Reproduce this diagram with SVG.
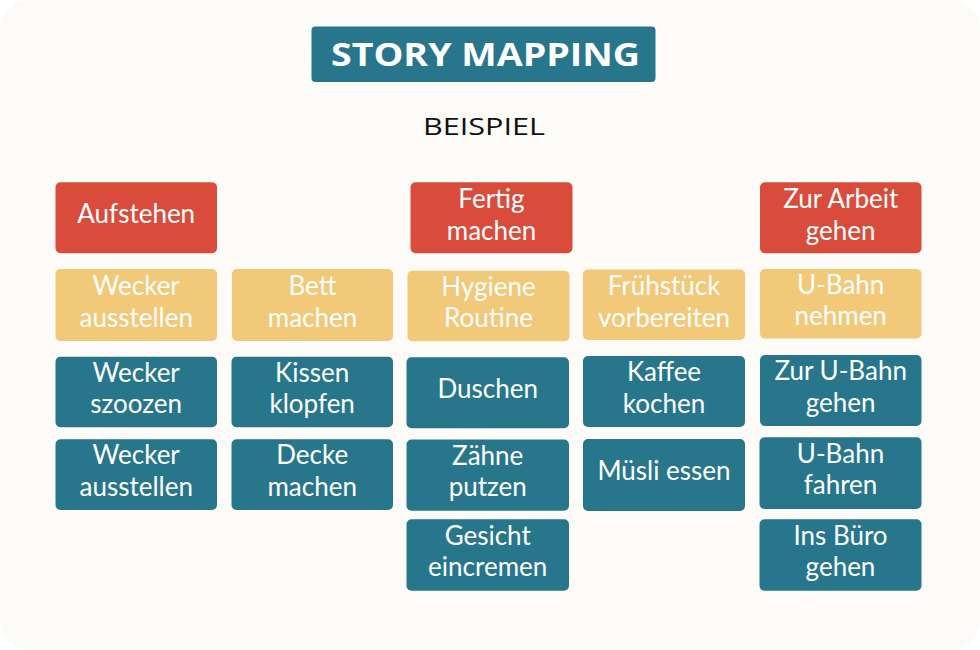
<svg xmlns="http://www.w3.org/2000/svg" width="980" height="650" viewBox="0 0 980 650">
<style>
.card{stroke:none}
.red{fill:#d94c3c}
.yel{fill:#f2c879}
.blu{fill:#27768b}
.t{font-family:Lato,"Open Sans","Liberation Sans",sans-serif;font-size:26px;fill:#ffffff;text-anchor:middle}
.title{font-family:"Open Sans","Liberation Sans",sans-serif;font-weight:700;font-size:32px;fill:#ffffff;text-anchor:middle}
.sub{font-family:"Open Sans","Liberation Sans",sans-serif;font-size:24px;fill:#111111;text-anchor:middle}
</style>
<rect x="0" y="0" width="980" height="650" fill="#ffffff"/>
<rect x="0" y="0" width="980" height="650" rx="30" fill="#fcfbf7"/>
<g id="title">
<rect x="311.5" y="26.5" width="344" height="55.5" rx="4" fill="#27768b"/>
<text class="title" x="485.5" y="66" textLength="309" lengthAdjust="spacingAndGlyphs">STORY MAPPING</text>
</g>
<g id="subtitle"><text class="sub" x="484" y="134.5" textLength="122" lengthAdjust="spacingAndGlyphs">BEISPIEL</text></g>
<g id="connectors"></g>

<g id="aufstehen"><rect class="card red" x="55.5" y="182.3" width="161.5" height="71" rx="5"/><text class="t" x="136.2" y="223.3">Aufstehen</text></g>
<g id="fertig-machen"><rect class="card red" x="410.5" y="182.3" width="162" height="71" rx="5"/><text class="t" x="491.5" y="208.3">Fertig</text><text class="t" x="491.5" y="239.5">machen</text></g>
<g id="zur-arbeit-gehen"><rect class="card red" x="760" y="182.3" width="161.5" height="71" rx="5"/><text class="t" x="840.7" y="208.3">Zur Arbeit</text><text class="t" x="840.7" y="239.5">gehen</text></g>

<g id="wecker-ausstellen-1"><rect class="card yel" x="55.5" y="269" width="161.5" height="72" rx="5"/><text class="t" x="136.2" y="294.5">Wecker</text><text class="t" x="136.2" y="327">ausstellen</text></g>
<g id="bett-machen"><rect class="card yel" x="232" y="269" width="161" height="72" rx="5"/><text class="t" x="312.5" y="294.5">Bett</text><text class="t" x="312.5" y="327">machen</text></g>
<g id="hygiene-routine"><rect class="card yel" x="407.5" y="270.7" width="162" height="70.5" rx="5"/><text class="t" x="488.5" y="295.5">Hygiene</text><text class="t" x="488.5" y="327">Routine</text></g>
<g id="fruehstueck"><rect class="card yel" x="583" y="269.5" width="162" height="70.5" rx="5"/><text class="t" x="664" y="294.5">Frühstück</text><text class="t" x="664" y="326.5">vorbereiten</text></g>
<g id="u-bahn-nehmen"><rect class="card yel" x="760" y="269" width="161.5" height="69.5" rx="5"/><text class="t" x="840.7" y="293.5">U-Bahn</text><text class="t" x="840.7" y="325">nehmen</text></g>

<g id="wecker-szoozen"><rect class="card blu" x="55.5" y="356.7" width="161.5" height="70.6" rx="5"/><text class="t" x="136.2" y="381.5">Wecker</text><text class="t" x="136.2" y="413">szoozen</text></g>
<g id="kissen-klopfen"><rect class="card blu" x="231.5" y="356.7" width="161.5" height="70.6" rx="5"/><text class="t" x="312.2" y="381.5">Kissen</text><text class="t" x="312.2" y="413">klopfen</text></g>
<g id="duschen"><rect class="card blu" x="406.5" y="357.3" width="162.5" height="71" rx="5"/><text class="t" x="487.7" y="397.7">Duschen</text></g>
<g id="kaffee-kochen"><rect class="card blu" x="583" y="356" width="162" height="71" rx="5"/><text class="t" x="664" y="381">Kaffee</text><text class="t" x="664" y="412.5">kochen</text></g>
<g id="zur-u-bahn-gehen"><rect class="card blu" x="760" y="355" width="161.5" height="71" rx="5"/><text class="t" x="840.7" y="380">Zur U-Bahn</text><text class="t" x="840.7" y="411.5">gehen</text></g>

<g id="wecker-ausstellen-2"><rect class="card blu" x="55.5" y="439.3" width="161.5" height="70.7" rx="5"/><text class="t" x="136.2" y="464">Wecker</text><text class="t" x="136.2" y="495.5">ausstellen</text></g>
<g id="decke-machen"><rect class="card blu" x="231.5" y="439.3" width="161.5" height="70.7" rx="5"/><text class="t" x="312.2" y="464">Decke</text><text class="t" x="312.2" y="495.5">machen</text></g>
<g id="zaehne-putzen"><rect class="card blu" x="406.5" y="439.6" width="162.5" height="71.2" rx="5"/><text class="t" x="487.7" y="464.5">Zähne</text><text class="t" x="487.7" y="496">putzen</text></g>
<g id="muesli-essen"><rect class="card blu" x="583" y="439" width="162" height="72" rx="5"/><text class="t" x="664" y="480">Müsli essen</text></g>
<g id="u-bahn-fahren"><rect class="card blu" x="759.5" y="437.3" width="162" height="71.7" rx="5"/><text class="t" x="840.5" y="462.5">U-Bahn</text><text class="t" x="840.5" y="494">fahren</text></g>

<g id="gesicht-eincremen"><rect class="card blu" x="406.5" y="519.3" width="162.5" height="71.4" rx="5"/><text class="t" x="487.7" y="544.5">Gesicht</text><text class="t" x="487.7" y="576">eincremen</text></g>
<g id="ins-buero-gehen"><rect class="card blu" x="759.5" y="519.3" width="162" height="71.4" rx="5"/><text class="t" x="840.5" y="544.5">Ins Büro</text><text class="t" x="840.5" y="576">gehen</text></g>
</svg>
